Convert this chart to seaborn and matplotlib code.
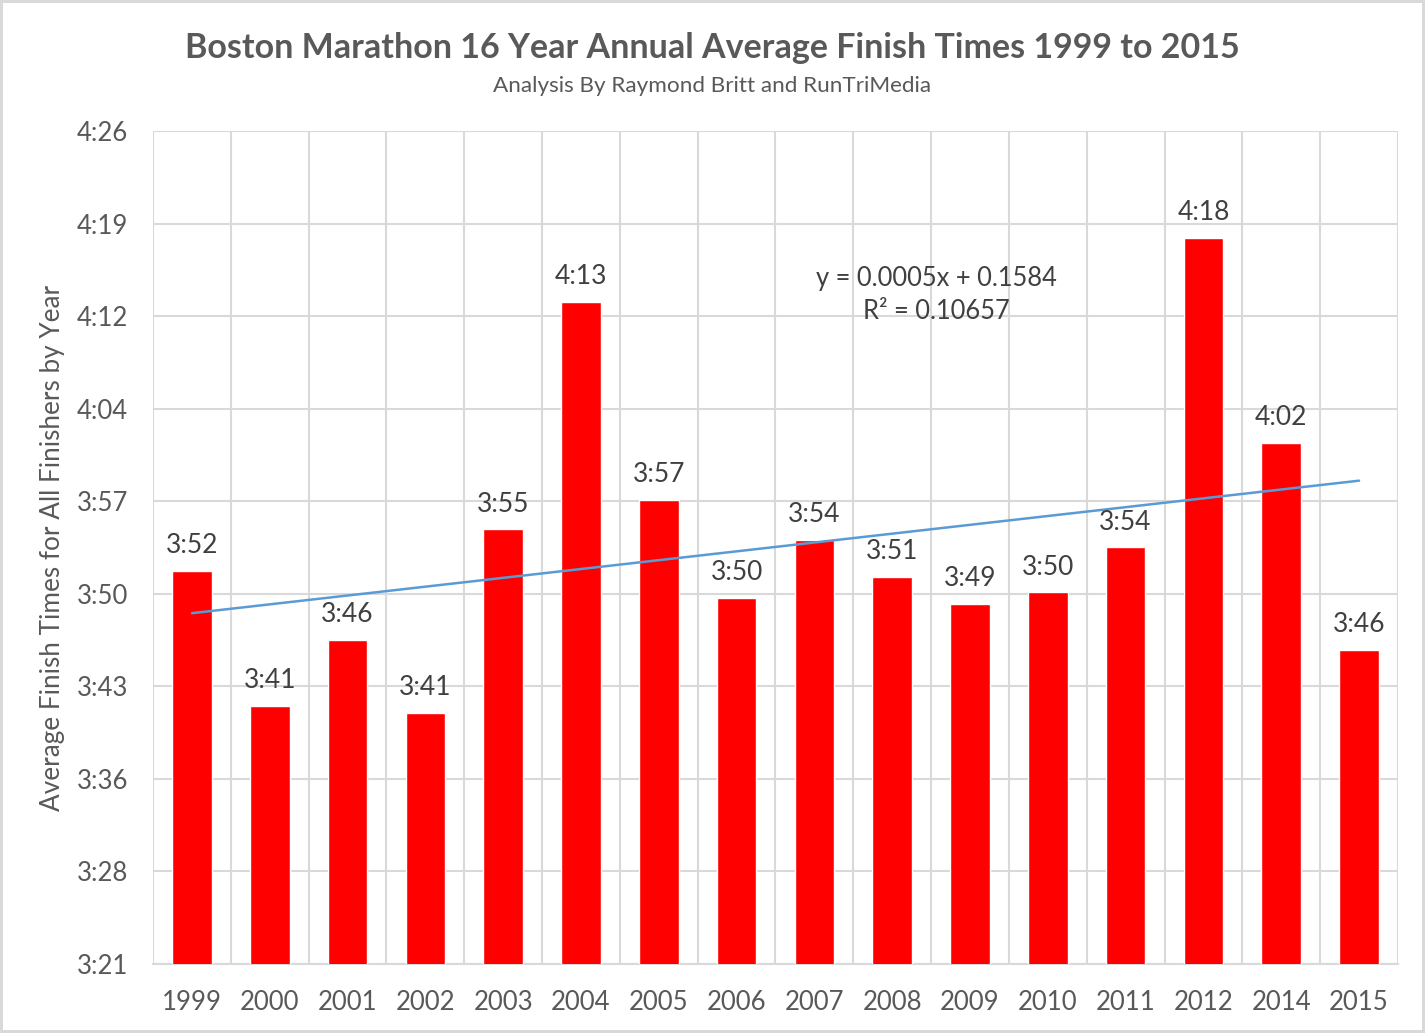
import numpy as np
import pandas as pd
import matplotlib
matplotlib.use("Agg")
import matplotlib.pyplot as plt
from matplotlib.ticker import FuncFormatter, MultipleLocator, FixedLocator
import seaborn as sns

# Average finish times (minutes)
years = ["1999", "2000", "2001", "2002", "2003", "2004", "2005", "2006",
         "2007", "2008", "2009", "2010", "2011", "2012", "2014", "2015"]
avg_minutes = [232.2, 221.7, 226.8, 221.1, 235.4, 253.1, 237.7, 230.1,
               234.6, 231.7, 229.6, 230.5, 234.0, 258.1, 242.1, 226.0]
bar_labels = ["3:52", "3:41", "3:46", "3:41", "3:55", "4:13", "3:57", "3:50",
              "3:54", "3:51", "3:49", "3:50", "3:54", "4:18", "4:02", "3:46"]
trend_text = "y = 0.0005x + 0.1584\nR² = 0.10657"

# Excel stores times as fractions of a day
df = pd.DataFrame({"year": years, "days": np.array(avg_minutes) / 1440.0})

sns.set_theme(style="white")
plt.rcParams["font.family"] = ["Lato", "DejaVu Sans"]

grey_txt = "#595959"
grid_col = "#D9D9D9"


def hmm(v, pos=None):
    m = v * 1440 + 1e-6
    return "%d:%02d" % (int(m // 60), int(m % 60))


fig = plt.figure(figsize=(14.25, 10.33), dpi=100)
fig.patch.set_edgecolor(grid_col)
fig.patch.set_linewidth(3)
ax = fig.add_axes([0.1074, 0.0668, 0.8736, 0.8064])

sns.barplot(data=df, x="year", y="days", color="#FF0000", saturation=1,
            width=0.51, ax=ax, zorder=3)

# linear trend over category index, like Excel's trendline
sns.regplot(x=np.arange(len(years)), y=df["days"], scatter=False, ci=None,
            ax=ax, line_kws={"color": "#5B9BD5", "lw": 1.8, "zorder": 4})

for i, (v, lab) in enumerate(zip(df["days"], bar_labels)):
    ax.text(i, v + 0.0007, lab, ha="center", va="bottom",
            fontsize=19, color="#404040", zorder=5)

ax.set_ylim(0.14, 0.185)
ax.yaxis.set_major_locator(MultipleLocator(0.005))
ax.yaxis.set_major_formatter(FuncFormatter(hmm))
ax.set_xlim(-0.5, len(years) - 0.5)
ax.xaxis.set_minor_locator(FixedLocator(np.arange(-0.5, len(years), 1.0)))

ax.grid(axis="y", which="major", color=grid_col, lw=1.5, zorder=0)
ax.grid(axis="x", which="minor", color=grid_col, lw=1.5, zorder=0)
ax.grid(axis="x", which="major", visible=False)
ax.set_axisbelow(True)
for s in ["top", "right", "left"]:
    ax.spines[s].set_visible(False)
ax.spines["bottom"].set_color(grid_col)
ax.spines["bottom"].set_linewidth(1.5)
ax.tick_params(axis="both", which="both", length=0, labelsize=18.5,
               labelcolor=grey_txt)
ax.tick_params(axis="x", pad=19)
ax.tick_params(axis="y", pad=18)

ax.set_xlabel("")
ax.set_ylabel("Average Finish Times for All Finishers by Year",
              fontsize=18.8, color=grey_txt, labelpad=8)

ax.text(0.629, 0.803, trend_text, transform=ax.transAxes, ha="center",
        va="center", fontsize=18.4, color="#404040", linespacing=1.4)

fig.text(0.5, 0.954, "Boston Marathon 16 Year Annual Average Finish Times 1999 to 2015",
         ha="center", va="center", fontsize=24.5, fontweight="bold", color=grey_txt)
fig.text(0.5, 0.917, "Analysis By Raymond Britt and RunTriMedia",
         ha="center", va="center", fontsize=16.2, color=grey_txt)

fig.savefig("out.png", dpi=100, edgecolor=fig.get_edgecolor())
